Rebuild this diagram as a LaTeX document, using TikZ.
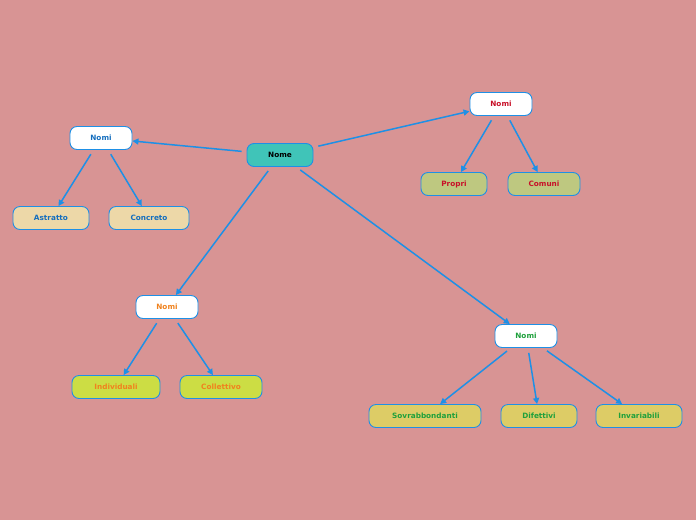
\documentclass[tikz,border=0pt]{standalone}
\usepackage{fontspec}
\setmainfont{DejaVu Sans}
\usetikzlibrary{arrows.meta}
\definecolor{bg}{RGB}{216,148,148}
\definecolor{edge}{RGB}{30,144,230}
\definecolor{tblue}{RGB}{20,110,190}
\definecolor{tred}{RGB}{200,16,40}
\definecolor{torange}{RGB}{240,130,30}
\definecolor{tgreen}{RGB}{30,160,60}
\tikzset{
 box/.style={draw=edge, line width=0.9pt, rounded corners=7pt, minimum height=23pt, font=\bfseries\fontsize{7.3}{8}\selectfont, inner sep=2pt},
 conn/.style={draw=edge, line width=1.5pt, -{Triangle[length=6pt,width=6pt]}, shorten <=5pt, shorten >=0pt}
}
\begin{document}
\begin{tikzpicture}[x=1pt,y=-1pt]
\fill[bg] (0,0) rectangle (696,520);
\node[box, fill={rgb,255:red,64;green,196;blue,184}, minimum width=66pt, text=black] (nome) at (280,155) {Nome};
\node[box, fill=white, minimum width=62pt, text=tblue] (n1) at (101,138) {Nomi};
\node[box, fill={rgb,255:red,237;green,216;blue,168}, minimum width=76pt, text=tblue] (a) at (51,218) {Astratto};
\node[box, fill={rgb,255:red,237;green,216;blue,168}, minimum width=80pt, text=tblue] (c) at (149,218) {Concreto};
\node[box, fill=white, minimum width=62pt, text=tred] (n2) at (501,104) {Nomi};
\node[box, fill={rgb,255:red,190;green,200;blue,128}, minimum width=66pt, text=tred] (p) at (454,184) {Propri};
\node[box, fill={rgb,255:red,190;green,200;blue,128}, minimum width=72pt, text=tred] (co) at (544,184) {Comuni};
\node[box, fill=white, minimum width=62pt, text=torange] (n3) at (167,307) {Nomi};
\node[box, fill={rgb,255:red,204;green,221;blue,68}, minimum width=88pt, text=torange] (i) at (116,387) {Individuali};
\node[box, fill={rgb,255:red,204;green,221;blue,68}, minimum width=82pt, text=torange] (cl) at (221,387) {Collettivo};
\node[box, fill=white, minimum width=62pt, text=tgreen] (n4) at (526,336) {Nomi};
\node[box, fill={rgb,255:red,221;green,204;blue,102}, minimum width=112pt, text=tgreen] (s) at (425,416) {Sovrabbondanti};
\node[box, fill={rgb,255:red,221;green,204;blue,102}, minimum width=76pt, text=tgreen] (d) at (539,416) {Difettivi};
\node[box, fill={rgb,255:red,221;green,204;blue,102}, minimum width=86pt, text=tgreen] (iv) at (639,416) {Invariabili};
\draw[conn] (nome) -- (n1);
\draw[conn] (nome) -- (n2);
\draw[conn] (nome) -- (n3);
\draw[conn] (nome) -- (n4);
\draw[conn] (n1) -- (a);
\draw[conn] (n1) -- (c);
\draw[conn] (n2) -- (p);
\draw[conn] (n2) -- (co);
\draw[conn] (n3) -- (i);
\draw[conn] (n3) -- (cl);
\draw[conn] (n4) -- (s);
\draw[conn] (n4) -- (d);
\draw[conn] (n4) -- (iv);
\end{tikzpicture}
\end{document}
